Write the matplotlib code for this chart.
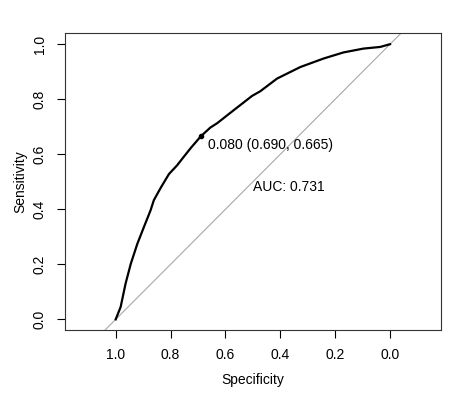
import matplotlib
matplotlib.use("Agg")
import matplotlib.pyplot as plt

plt.rcParams['font.family'] = ['Liberation Sans', 'DejaVu Sans']

# ROC curve (specificity, sensitivity)
specificity = [1.0, 0.982, 0.964, 0.945, 0.921, 0.897, 0.873, 0.861, 0.836,
               0.806, 0.776, 0.758, 0.727, 0.690, 0.655, 0.630, 0.570, 0.503,
               0.473, 0.412, 0.327, 0.242, 0.170, 0.097, 0.036, 0.0]
sensitivity = [0.0, 0.045, 0.130, 0.202, 0.275, 0.336, 0.396, 0.433, 0.478,
               0.528, 0.560, 0.583, 0.622, 0.665, 0.697, 0.713, 0.760, 0.812,
               0.829, 0.875, 0.917, 0.948, 0.970, 0.984, 0.990, 1.0]

best_thres = 0.080
best_spec = 0.690
best_sens = 0.665
auc = 0.731

ticks = [1.0, 0.8, 0.6, 0.4, 0.2, 0.0]
tick_labels = ['1.0', '0.8', '0.6', '0.4', '0.2', '0.0']

fig = plt.figure(figsize=(4.74, 3.95), dpi=100)
ax = fig.add_axes([0.137, 0.165, 0.793, 0.751])

ax.axline((1, 0), (0, 1), color='#a8a8a8', lw=0.8, zorder=1)
ax.plot(specificity, sensitivity, color='black', lw=1.6, zorder=2)
ax.plot([best_spec], [best_sens], 'o', color='black', ms=3, zorder=3)

ax.text(best_spec - 0.025, best_sens - 0.032,
        '%.3f (%.3f, %.3f)' % (best_thres, best_spec, best_sens),
        ha='left', va='center', fontsize=10)
ax.text(0.5, 0.481, 'AUC: %.3f' % auc, ha='left', va='center', fontsize=10)

ax.set_xlim(1.185, -0.185)
ax.set_ylim(-0.038, 1.04)
ax.set_xticks(ticks)
ax.set_xticklabels(tick_labels)
ax.set_yticks(ticks)
ax.set_yticklabels(tick_labels, rotation=90, va='center')
ax.tick_params(axis='both', labelsize=10, length=6, width=0.8, pad=7)

for s in ax.spines.values():
    s.set_linewidth(0.8)
    s.set_color('#333333')

ax.set_xlabel('Specificity', fontsize=10, labelpad=8)
ax.set_ylabel('Sensitivity', fontsize=10, labelpad=4)

fig.savefig('out.png', dpi=100)
